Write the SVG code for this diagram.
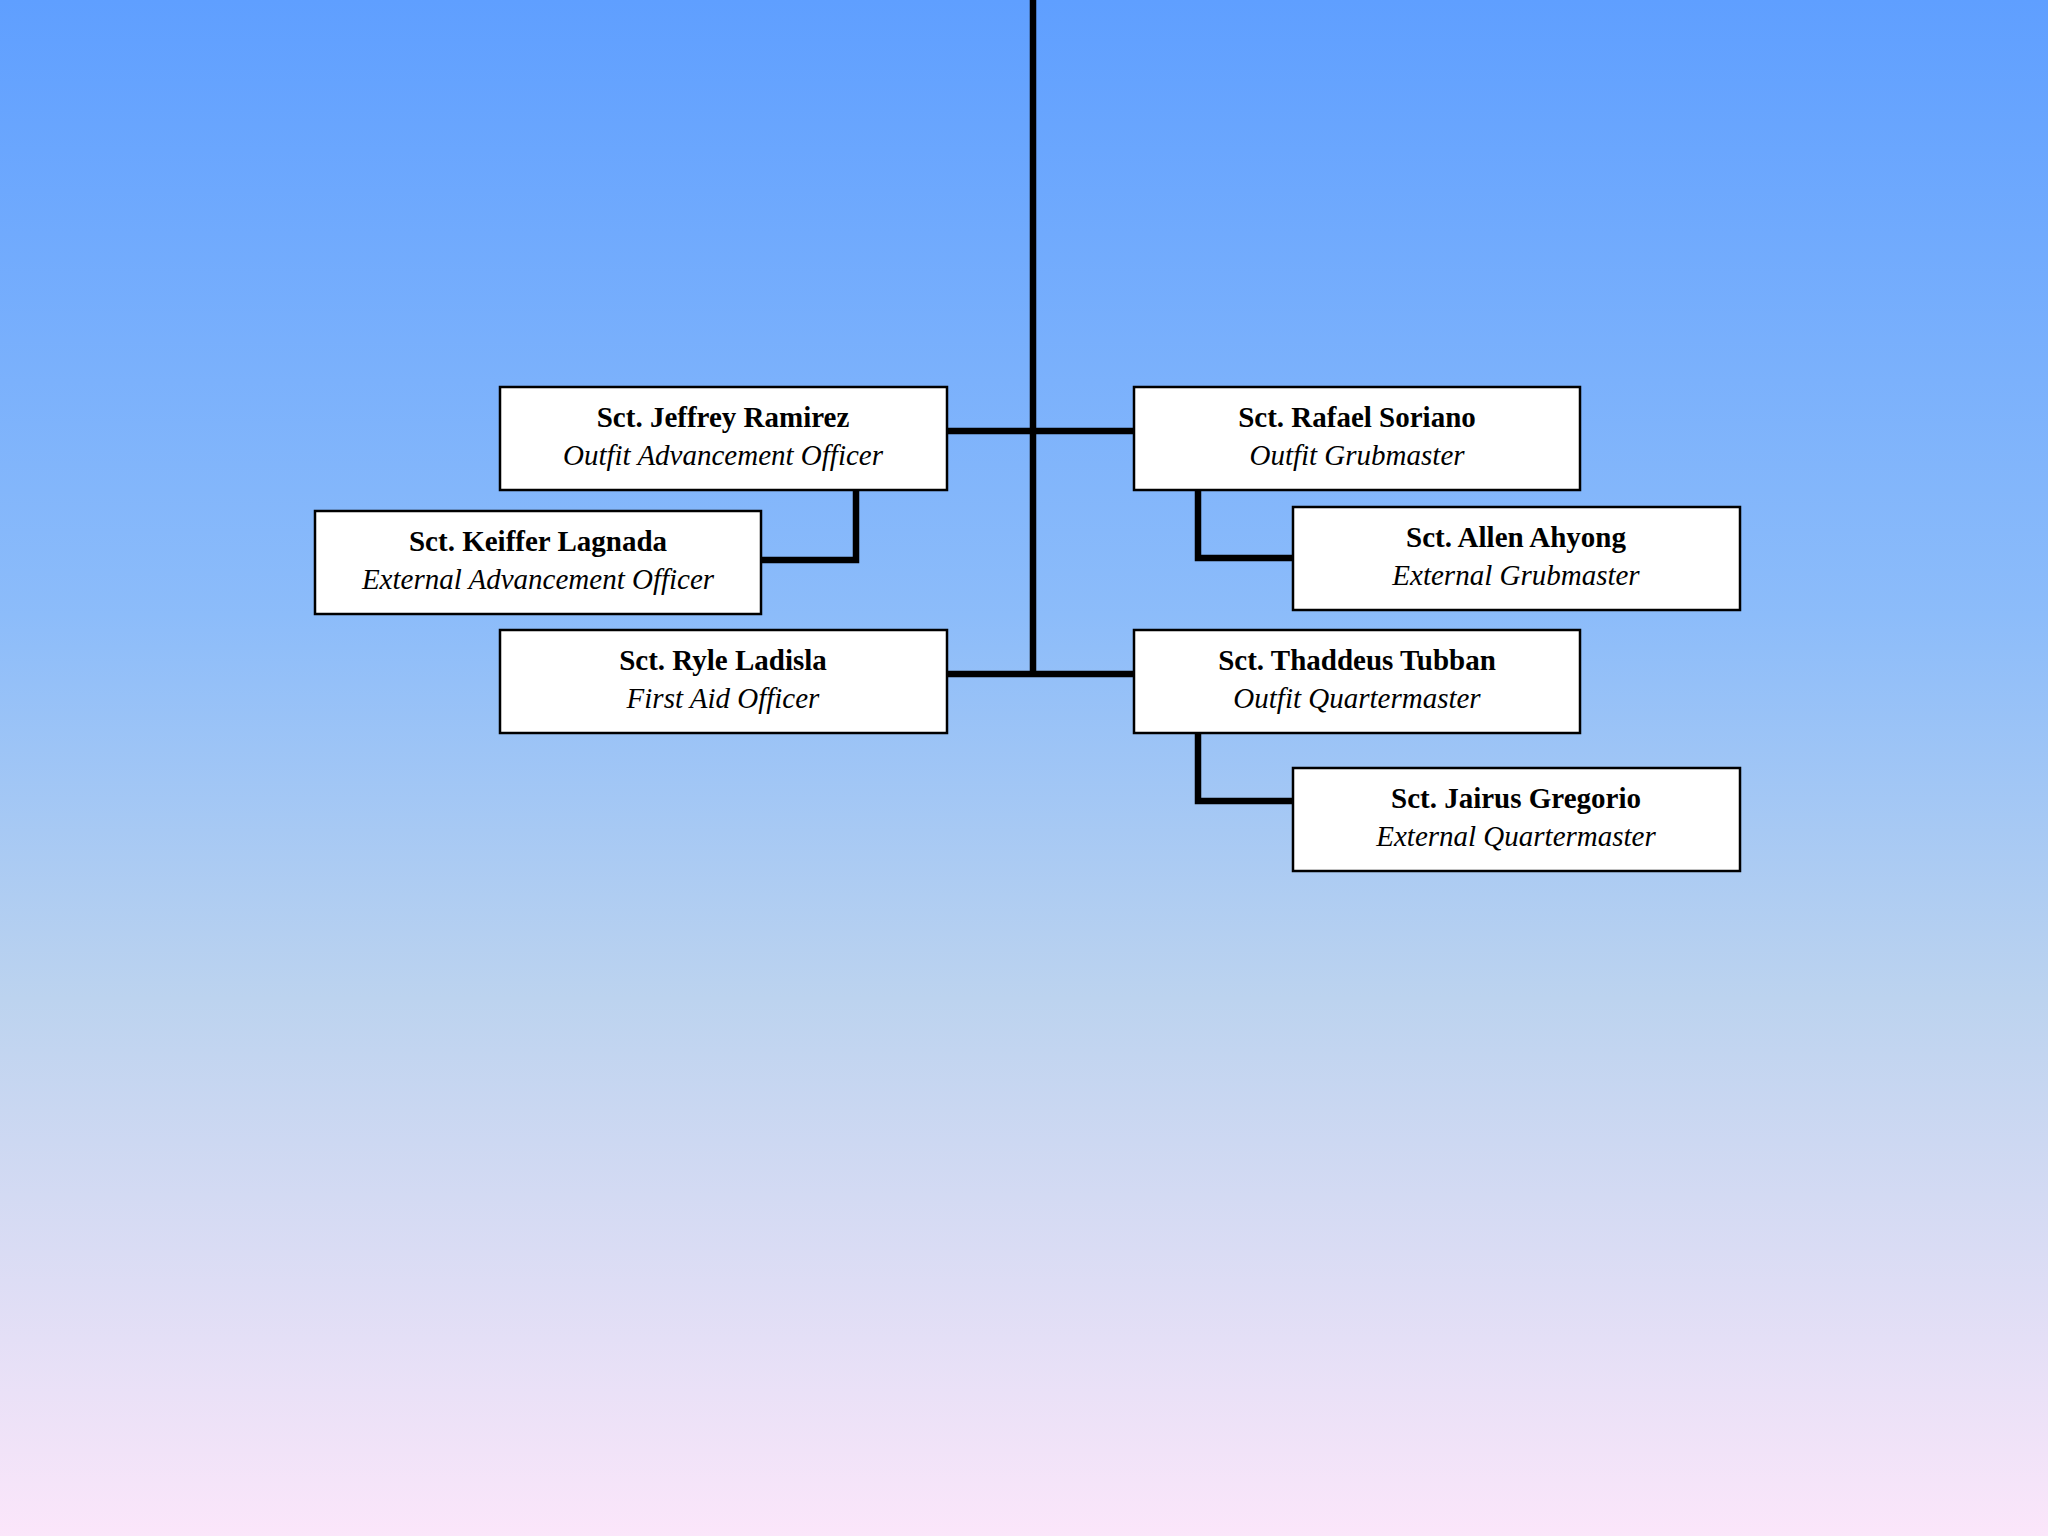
<svg xmlns="http://www.w3.org/2000/svg" width="2048" height="1536" viewBox="0 0 2048 1536">
<defs>
<linearGradient id="bg" x1="0" y1="0" x2="0" y2="1">
<stop offset="0" stop-color="#5f9fff"/>
<stop offset="0.4" stop-color="#8cbcfa"/>
<stop offset="0.65" stop-color="#bcd3ef"/>
<stop offset="1" stop-color="#fbe6fa"/>
</linearGradient>
<style>
.box{fill:#fff;stroke:#000;stroke-width:2.5}
.n{font-family:"Liberation Serif",serif;font-weight:bold;font-size:29px;text-anchor:middle}
.r{font-family:"Liberation Serif",serif;font-style:italic;font-size:29px;text-anchor:middle}
.c{fill:none;stroke:#000;stroke-width:6.5}
</style>
</defs>
<rect width="2048" height="1536" fill="url(#bg)"/>
<g id="connectors">
<path class="c" d="M1033 0V674"/>
<path class="c" d="M947 431H1134"/>
<path class="c" d="M947 674H1134"/>
<path class="c" d="M856 490V560H761"/>
<path class="c" d="M1198 490V558H1293"/>
<path class="c" d="M1198 733V801H1293"/>
</g>
<g id="jeffrey"><rect class="box" x="500" y="387" width="447" height="103"/><text class="n" x="723" y="427">Sct. Jeffrey Ramirez</text><text class="r" x="723" y="465">Outfit Advancement Officer</text></g>
<g id="rafael"><rect class="box" x="1134" y="387" width="446" height="103"/><text class="n" x="1357" y="427">Sct. Rafael Soriano</text><text class="r" x="1357" y="465">Outfit Grubmaster</text></g>
<g id="keiffer"><rect class="box" x="315" y="511" width="446" height="103"/><text class="n" x="538" y="551">Sct. Keiffer Lagnada</text><text class="r" x="538" y="589">External Advancement Officer</text></g>
<g id="allen"><rect class="box" x="1293" y="507" width="447" height="103"/><text class="n" x="1516" y="547">Sct. Allen Ahyong</text><text class="r" x="1516" y="585">External Grubmaster</text></g>
<g id="ryle"><rect class="box" x="500" y="630" width="447" height="103"/><text class="n" x="723" y="670">Sct. Ryle Ladisla</text><text class="r" x="723" y="708">First Aid Officer</text></g>
<g id="thaddeus"><rect class="box" x="1134" y="630" width="446" height="103"/><text class="n" x="1357" y="670">Sct. Thaddeus Tubban</text><text class="r" x="1357" y="708">Outfit Quartermaster</text></g>
<g id="jairus"><rect class="box" x="1293" y="768" width="447" height="103"/><text class="n" x="1516" y="808">Sct. Jairus Gregorio</text><text class="r" x="1516" y="846">External Quartermaster</text></g>
</svg>
